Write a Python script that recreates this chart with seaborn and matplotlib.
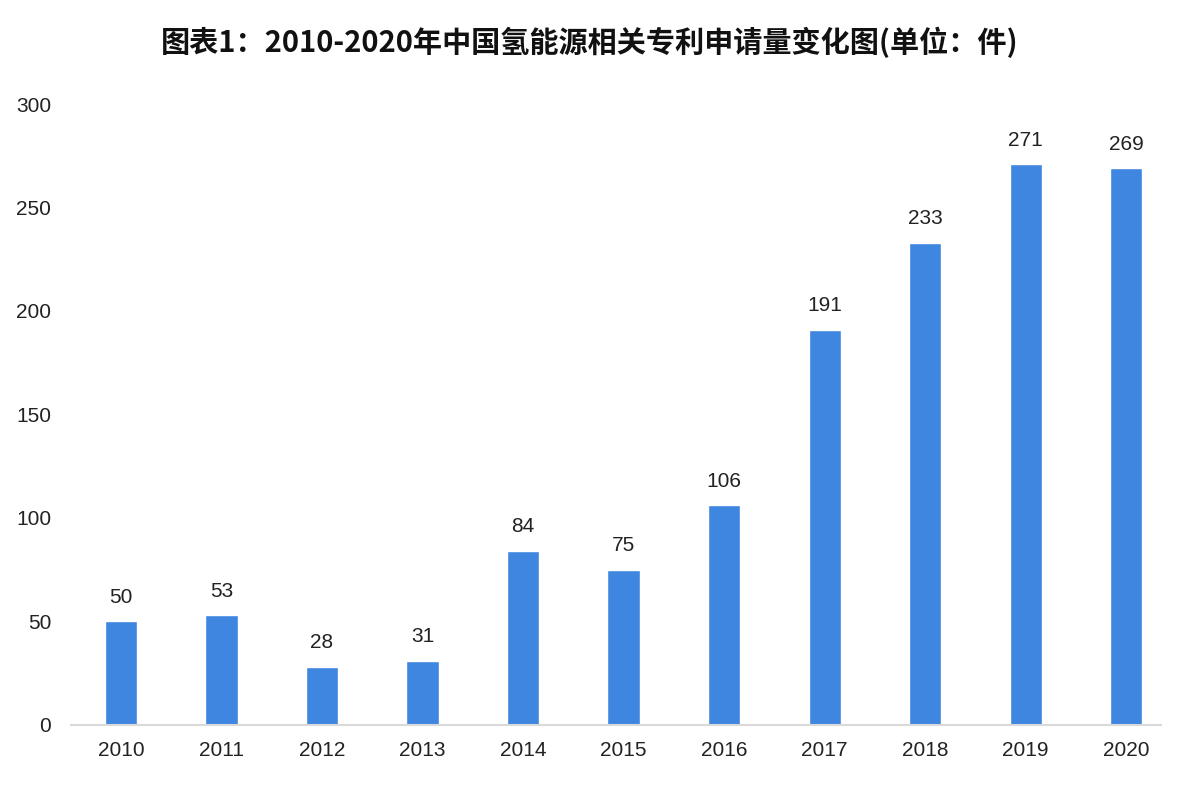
import pandas as pd
import seaborn as sns
import matplotlib.pyplot as plt

# data
years = ["2010", "2011", "2012", "2013", "2014", "2015",
         "2016", "2017", "2018", "2019", "2020"]
patents = [50, 53, 28, 31, 84, 75, 106, 191, 233, 271, 269]
y_ticks = [0, 50, 100, 150, 200, 250, 300]

df = pd.DataFrame({"year": years, "count": patents})

sns.set_theme(style="white")
plt.rcParams['font.family'] = ['Noto Sans CJK SC', 'DejaVu Sans']

fig = plt.figure(figsize=(11.79, 8), dpi=100)
ax = fig.add_axes([0.06, 0.094, 0.925, 0.776])

sns.barplot(data=df, x="year", y="count", color="#3F86E0",
            saturation=1, width=0.32, ax=ax)

# value labels above bars
for i, v in enumerate(patents):
    ax.text(i, v + 7, str(v), ha="center", va="bottom",
            fontsize=15, color="#222222", family="Liberation Sans")

ax.set_ylim(0, 300)
ax.set_xlim(-0.5, 10.35)
ax.set_yticks(y_ticks)
ax.set_yticklabels([str(t) for t in y_ticks], family="Liberation Sans")
ax.tick_params(axis="y", length=0, pad=14, labelsize=15, labelcolor="#222222")
ax.tick_params(axis="x", length=0, pad=12, labelsize=15, labelcolor="#222222")
for lab in ax.get_xticklabels():
    lab.set_family("Liberation Sans")

ax.set_xlabel("")
ax.set_ylabel("")
sns.despine(ax=ax, left=True)
ax.spines["bottom"].set_color("#d9d9d9")
ax.spines["bottom"].set_linewidth(1.5)

fig.text(0.5, 0.947, "图表1：2010-2020年中国氢能源相关专利申请量变化图(单位：件)",
         ha="center", va="center", fontsize=21, weight="bold", color="#111111")

fig.savefig("out.png", dpi=100)
